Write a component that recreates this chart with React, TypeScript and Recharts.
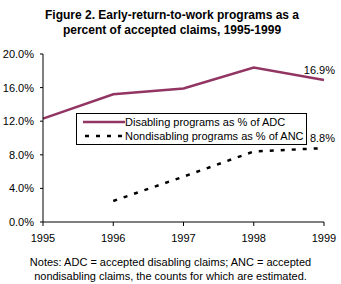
import React from "react";
import { LineChart, Line, XAxis, YAxis, LabelList } from "recharts";

const years = ["1995", "1996", "1997", "1998", "1999"];
const disabling = [12.3, 15.2, 15.9, 18.4, 16.9];
const nondisabling: (number | null)[] = [null, 2.5, 5.4, 8.4, 8.8];
const yTicks = [0, 4, 8, 12, 16, 20];
const titleLines = ["Figure 2. Early-return-to-work programs as a", "percent of accepted claims, 1995-1999"];
const noteLines = [
  "Notes: ADC = accepted disabling claims; ANC = accepted",
  "nondisabling claims, the counts for which are estimated.",
];
const seriesNames = ["Disabling programs as % of ADC", "Nondisabling programs as % of ANC"];

const data = years.map((y, i) => ({ year: y, dis: disabling[i], non: nondisabling[i] }));

const FONT = "Arial, 'Liberation Sans', sans-serif";
const C1 = "#923563";

const lastLabel = (props: any) => {
  const { x, y, value, index } = props;
  if (index !== years.length - 1 || value == null) return null;
  return (
    <text x={x + 11} y={y - 6} textAnchor="end" fontSize={11} fontFamily={FONT} fill="#000">
      {value.toFixed(1) + "%"}
    </text>
  );
};

export default function App() {
  return (
    <div style={{ position: "fixed", left: 0, top: 0, width: 341, height: 284, background: "#fff" }}>
      <div
        style={{
          position: "absolute",
          left: 0,
          top: 8,
          width: 344,
          textAlign: "center",
          fontFamily: FONT,
          fontWeight: "bold",
          fontSize: 12,
          lineHeight: "15px",
        }}
      >
        {titleLines.map((t) => (
          <div key={t}>{t}</div>
        ))}
      </div>
      <LineChart
        width={341}
        height={284}
        data={data}
        margin={{ top: 54, right: 17, left: 0, bottom: 42 }}
      >
        <XAxis
          dataKey="year"
          height={20}
          tickSize={4}
          tickMargin={8}
          stroke="#000"
          tick={{ fill: "#000", fontSize: 11, fontFamily: FONT }}
          tickLine={{ stroke: "#000" }}
        />
        <YAxis
          width={43}
          domain={[0, 20]}
          ticks={yTicks}
          tickSize={3}
          tickMargin={6}
          stroke="#000"
          tickFormatter={(v: number) => v.toFixed(1) + "%"}
          tick={{ fill: "#000", fontSize: 11, fontFamily: FONT }}
          tickLine={{ stroke: "#000" }}
        />
        <Line
          dataKey="dis"
          name={seriesNames[0]}
          stroke={C1}
          strokeWidth={2.5}
          dot={false}
          isAnimationActive={false}
        >
          <LabelList dataKey="dis" content={lastLabel} />
        </Line>
        <Line
          dataKey="non"
          name={seriesNames[1]}
          stroke="#000"
          strokeWidth={2.5}
          strokeDasharray="4 7"
          dot={false}
          isAnimationActive={false}
        >
          <LabelList dataKey="non" content={lastLabel} />
        </Line>
      </LineChart>
      <div
        style={{
          position: "absolute",
          left: 76,
          top: 113,
          width: 231,
          height: 32,
          border: "1px solid #000",
          background: "#fff",
          boxSizing: "border-box",
          fontFamily: FONT,
          fontSize: 11,
          padding: "1px 0 0 6px",
          lineHeight: "14px",
          overflow: "visible",
        }}
      >
        <div style={{ display: "flex", alignItems: "center", whiteSpace: "nowrap", height: 14 }}>
          <svg width={42} height={10} style={{ flex: "none" }}>
            <line x1={0} y1={5} x2={42} y2={5} stroke={C1} strokeWidth={2.5} />
          </svg>
          <span>{seriesNames[0]}</span>
        </div>
        <div style={{ display: "flex", alignItems: "center", whiteSpace: "nowrap", height: 14 }}>
          <svg width={42} height={10} style={{ flex: "none" }}>
            <line x1={2} y1={5} x2={42} y2={5} stroke="#000" strokeWidth={2.5} strokeDasharray="4 7" />
          </svg>
          <span>{seriesNames[1]}</span>
        </div>
      </div>
      <div
        style={{
          position: "absolute",
          left: 0,
          top: 255,
          width: 341,
          textAlign: "center",
          fontFamily: FONT,
          fontSize: 11,
          lineHeight: "14px",
        }}
      >
        {noteLines.map((t) => (
          <div key={t}>{t}</div>
        ))}
      </div>
    </div>
  );
}
